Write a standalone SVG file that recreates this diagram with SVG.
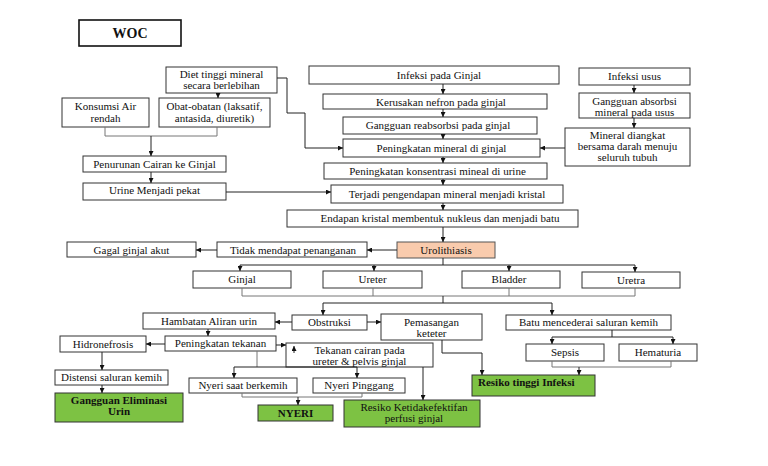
<svg xmlns="http://www.w3.org/2000/svg" width="768" height="466" viewBox="0 0 768 466">
<defs>
<marker id="ah" markerWidth="5" markerHeight="5" refX="5" refY="2.5" orient="auto" markerUnits="userSpaceOnUse"><path d="M0,0 L5,2.5 L0,5 z" fill="#111"/></marker>
</defs>
<style>
.b{fill:#fff;stroke:#333;stroke-width:1}
.g{fill:#7DC243;stroke:#333;stroke-width:1}
.o{fill:#F9CBAD;stroke:#555;stroke-width:1}
text{font-family:"Liberation Serif","Times New Roman",serif;font-size:11px;fill:#111;text-anchor:middle}
.bd{font-weight:bold}
#conn line,#conn path{fill:none;stroke:#222;stroke-width:1}
#conn .gr{stroke:#777}
.a{marker-end:url(#ah)}
</style>
<rect width="768" height="466" fill="#fff"/>

<g id="woc"><rect x="79" y="20" width="102" height="26" fill="#fff" stroke="#111" stroke-width="1.6"/><text x="130" y="38" class="bd" style="font-size:14px">WOC</text></g>

<g id="diet"><rect class="b" x="166" y="67" width="111" height="26"/><text x="221.5" y="77.5">Diet tinggi mineral</text><text x="221.5" y="88.5">secara berlebihan</text></g>
<g id="konsumsi"><rect class="b" x="62" y="98" width="87" height="29"/><text x="105.5" y="110">Konsumsi Air</text><text x="105.5" y="122">rendah</text></g>
<g id="obat"><rect class="b" x="159" y="98" width="111" height="29"/><text x="214.5" y="110">Obat-obatan (laksatif,</text><text x="214.5" y="122">antasida, diuretik)</text></g>
<g id="penurunan"><rect class="b" x="83" y="156" width="143" height="16"/><text x="154.5" y="168">Penurunan Cairan ke Ginjal</text></g>
<g id="urine"><rect class="b" x="83" y="183" width="143" height="17"/><text x="154.5" y="194">Urine Menjadi pekat</text></g>

<g id="infeksi-ginjal"><rect class="b" x="309" y="66" width="250" height="18"/><text x="439" y="79">Infeksi pada Ginjal</text></g>
<g id="kerusakan"><rect class="b" x="323" y="94" width="224" height="15"/><text x="441" y="105.5">Kerusakan nefron pada ginjal</text></g>
<g id="gangguan-reabsorbsi"><rect class="b" x="343" y="117" width="194" height="17"/><text x="438" y="129">Gangguan reabsorbsi pada ginjal</text></g>
<g id="peningkatan-mineral"><rect class="b" x="343" y="139" width="197" height="18"/><text x="441.5" y="152">Peningkatan mineral di ginjal</text></g>
<g id="peningkatan-konsentrasi"><rect class="b" x="324" y="163" width="223" height="16"/><text x="437.5" y="175">Peningkatan konsentrasi mineal di urine</text></g>
<g id="terjadi"><rect class="b" x="331" y="185" width="232" height="18"/><text x="447" y="198">Terjadi pengendapan mineral menjadi kristal</text></g>
<g id="endapan"><rect class="b" x="287" y="210" width="291" height="17"/><text x="440" y="222">Endapan kristal membentuk nukleus dan menjadi batu</text></g>

<g id="infeksi-usus"><rect class="b" x="579" y="68" width="111" height="17"/><text x="634.5" y="80">Infeksi usus</text></g>
<g id="gangguan-absorbsi"><rect class="b" x="579" y="93" width="111" height="25"/><text x="634.5" y="105">Gangguan absorbsi</text><text x="634.5" y="116">mineral pada usus</text></g>
<g id="mineral-diangkat"><rect class="b" x="565" y="128" width="125" height="38"/><text x="627.5" y="139">Mineral diangkat</text><text x="627.5" y="150">bersama darah menuju</text><text x="627.5" y="161">seluruh tubuh</text></g>

<g id="urolithiasis"><rect class="o" x="397" y="242" width="98" height="16"/><text x="446" y="254">Urolithiasis</text></g>
<g id="tidak"><rect class="b" x="217" y="242" width="150" height="15"/><text x="293" y="253.5">Tidak mendapat penanganan</text></g>
<g id="gagal"><rect class="b" x="67" y="242" width="129" height="15"/><text x="131.5" y="253.5">Gagal ginjal akut</text></g>

<g id="ginjal"><rect class="b" x="193" y="271" width="98" height="17"/><text x="242" y="283">Ginjal</text></g>
<g id="ureter"><rect class="b" x="323" y="271" width="99" height="17"/><text x="372.5" y="283">Ureter</text></g>
<g id="bladder"><rect class="b" x="462" y="271" width="98" height="17"/><text x="509" y="283">Bladder</text></g>
<g id="uretra"><rect class="b" x="582" y="272" width="98" height="16"/><text x="631" y="283.5">Uretra</text></g>

<g id="obstruksi"><rect class="b" x="292" y="315" width="75" height="15"/><text x="329.5" y="326">Obstruksi</text></g>
<g id="hambatan"><rect class="b" x="143" y="313" width="132" height="16"/><text x="209" y="325">Hambatan Aliran urin</text></g>
<g id="pemasangan"><rect class="b" x="381" y="314" width="101" height="26"/><text x="431.5" y="326">Pemasangan</text><text x="431.5" y="337">keteter</text></g>
<g id="batu"><rect class="b" x="506" y="315" width="165" height="15"/><text x="588.5" y="326">Batu mencederai saluran kemih</text></g>

<g id="peningkatan-tekanan"><rect class="b" x="165" y="336" width="111" height="15"/><text x="220.5" y="347">Peningkatan tekanan</text></g>
<g id="hidronefrosis"><rect class="b" x="60" y="336" width="86" height="16"/><text x="103" y="347.5">Hidronefrosis</text></g>
<g id="tekanan-cairan"><rect class="b" x="286" y="343" width="147" height="24"/><text x="359.5" y="354">Tekanan cairan pada</text><text x="359.5" y="365">ureter &amp; pelvis ginjal</text></g>
<g id="sepsis"><rect class="b" x="526" y="344" width="78" height="17"/><text x="565" y="356">Sepsis</text></g>
<g id="hematuria"><rect class="b" x="619" y="344" width="78" height="17"/><text x="658" y="356">Hematuria</text></g>

<g id="distensi"><rect class="b" x="55" y="370" width="113" height="15"/><text x="111.5" y="381">Distensi saluran kemih</text></g>
<g id="nyeri-berkemih"><rect class="b" x="189" y="378" width="108" height="15"/><text x="243" y="389">Nyeri saat berkemih</text></g>
<g id="nyeri-pinggang"><rect class="b" x="313" y="378" width="92" height="15"/><text x="359" y="389">Nyeri Pinggang</text></g>

<g id="resiko-infeksi"><rect class="g" x="472" y="375" width="123" height="21"/><text x="478" y="386" class="bd" style="text-anchor:start">Resiko tinggi Infeksi</text></g>
<g id="gangguan-eliminasi"><rect class="g" x="55" y="393" width="128" height="29"/><text x="119" y="404" class="bd">Gangguan Eliminasi</text><text x="119" y="415" class="bd">Urin</text></g>
<g id="nyeri"><rect class="g" x="258" y="405" width="75" height="16"/><text x="295.5" y="417" class="bd">NYERI</text></g>
<g id="resiko-perfusi"><rect class="g" x="344" y="400" width="136" height="27"/><text x="414" y="411">Resiko Ketidakefektifan</text><text x="414" y="422">perfusi ginjal</text></g>

<g id="conn">
<line class="a" x1="218" y1="93" x2="218" y2="98"/>
<path class="gr" d="M105,127 V136 H217 V127"/>
<line class="a" x1="151" y1="136" x2="151" y2="156"/>
<line class="a" x1="151" y1="172" x2="151" y2="183"/>
<line class="a" x1="226" y1="192" x2="331" y2="192"/>
<path class="a" d="M277,78 H287 V113 H305 V148 H343"/>
<line class="a" x1="443" y1="84" x2="443" y2="94"/>
<line class="a" x1="443" y1="109" x2="443" y2="117"/>
<line class="a" x1="443" y1="134" x2="443" y2="139"/>
<line class="a" x1="443" y1="157" x2="443" y2="163"/>
<line class="a" x1="443" y1="179" x2="443" y2="185"/>
<line class="a" x1="443" y1="203" x2="443" y2="210"/>
<line class="a" x1="443" y1="227" x2="443" y2="242"/>
<line class="a" x1="634" y1="85" x2="634" y2="93"/>
<line class="a" x1="634" y1="118" x2="634" y2="128"/>
<line class="a" x1="565" y1="148" x2="540" y2="148"/>
<line class="a" x1="397" y1="250" x2="367" y2="250"/>
<line class="a" x1="217" y1="250" x2="196" y2="250"/>
<line x1="443" y1="258" x2="443" y2="265"/>
<line x1="240" y1="265" x2="635" y2="265"/>
<line class="a" x1="240" y1="265" x2="240" y2="271"/>
<line class="a" x1="374" y1="265" x2="374" y2="271"/>
<line class="a" x1="509" y1="265" x2="509" y2="271"/>
<line class="a" x1="635" y1="265" x2="635" y2="272"/>
<path class="gr" d="M242,288 V296 H635 V288"/>
<line class="gr" x1="373" y1="288" x2="373" y2="296"/>
<line class="gr" x1="509" y1="288" x2="509" y2="296"/>
<line x1="443" y1="296" x2="443" y2="303"/>
<line x1="323" y1="303" x2="552" y2="303"/>
<line class="a" x1="323" y1="303" x2="323" y2="315"/>
<line class="a" x1="552" y1="303" x2="552" y2="315"/>
<line class="a" x1="292" y1="322" x2="275" y2="322"/>
<line class="a" x1="367" y1="322" x2="381" y2="322"/>
<line class="a" x1="208" y1="329" x2="208" y2="336"/>
<line class="a" x1="165" y1="344" x2="146" y2="344"/>
<line class="a" x1="276" y1="345" x2="286" y2="345"/>
<line class="a" x1="294" y1="353" x2="294" y2="346"/>
<line class="gr" x1="257" y1="351" x2="257" y2="367"/>
<line x1="234" y1="367" x2="357" y2="367"/>
<line class="a" x1="234" y1="367" x2="234" y2="378"/>
<line class="a" x1="357" y1="367" x2="357" y2="378"/>
<path class="gr" d="M242,393 V397 H362 V393"/>
<line class="a" x1="298" y1="397" x2="298" y2="405"/>
<line class="a" x1="102" y1="352" x2="102" y2="370"/>
<line class="a" x1="102" y1="385" x2="102" y2="393"/>
<line class="a" x1="423" y1="367" x2="423" y2="400"/>
<path class="a" d="M442,340 V353 H482 V375"/>
<line x1="612" y1="330" x2="612" y2="337"/>
<line x1="552" y1="337" x2="673" y2="337"/>
<line class="a" x1="552" y1="337" x2="552" y2="344"/>
<line class="a" x1="673" y1="337" x2="673" y2="344"/>
<path class="gr" d="M552,361 V367 H671 V361"/>
<line class="a" x1="579" y1="367" x2="579" y2="375"/>
</g>
</svg>
